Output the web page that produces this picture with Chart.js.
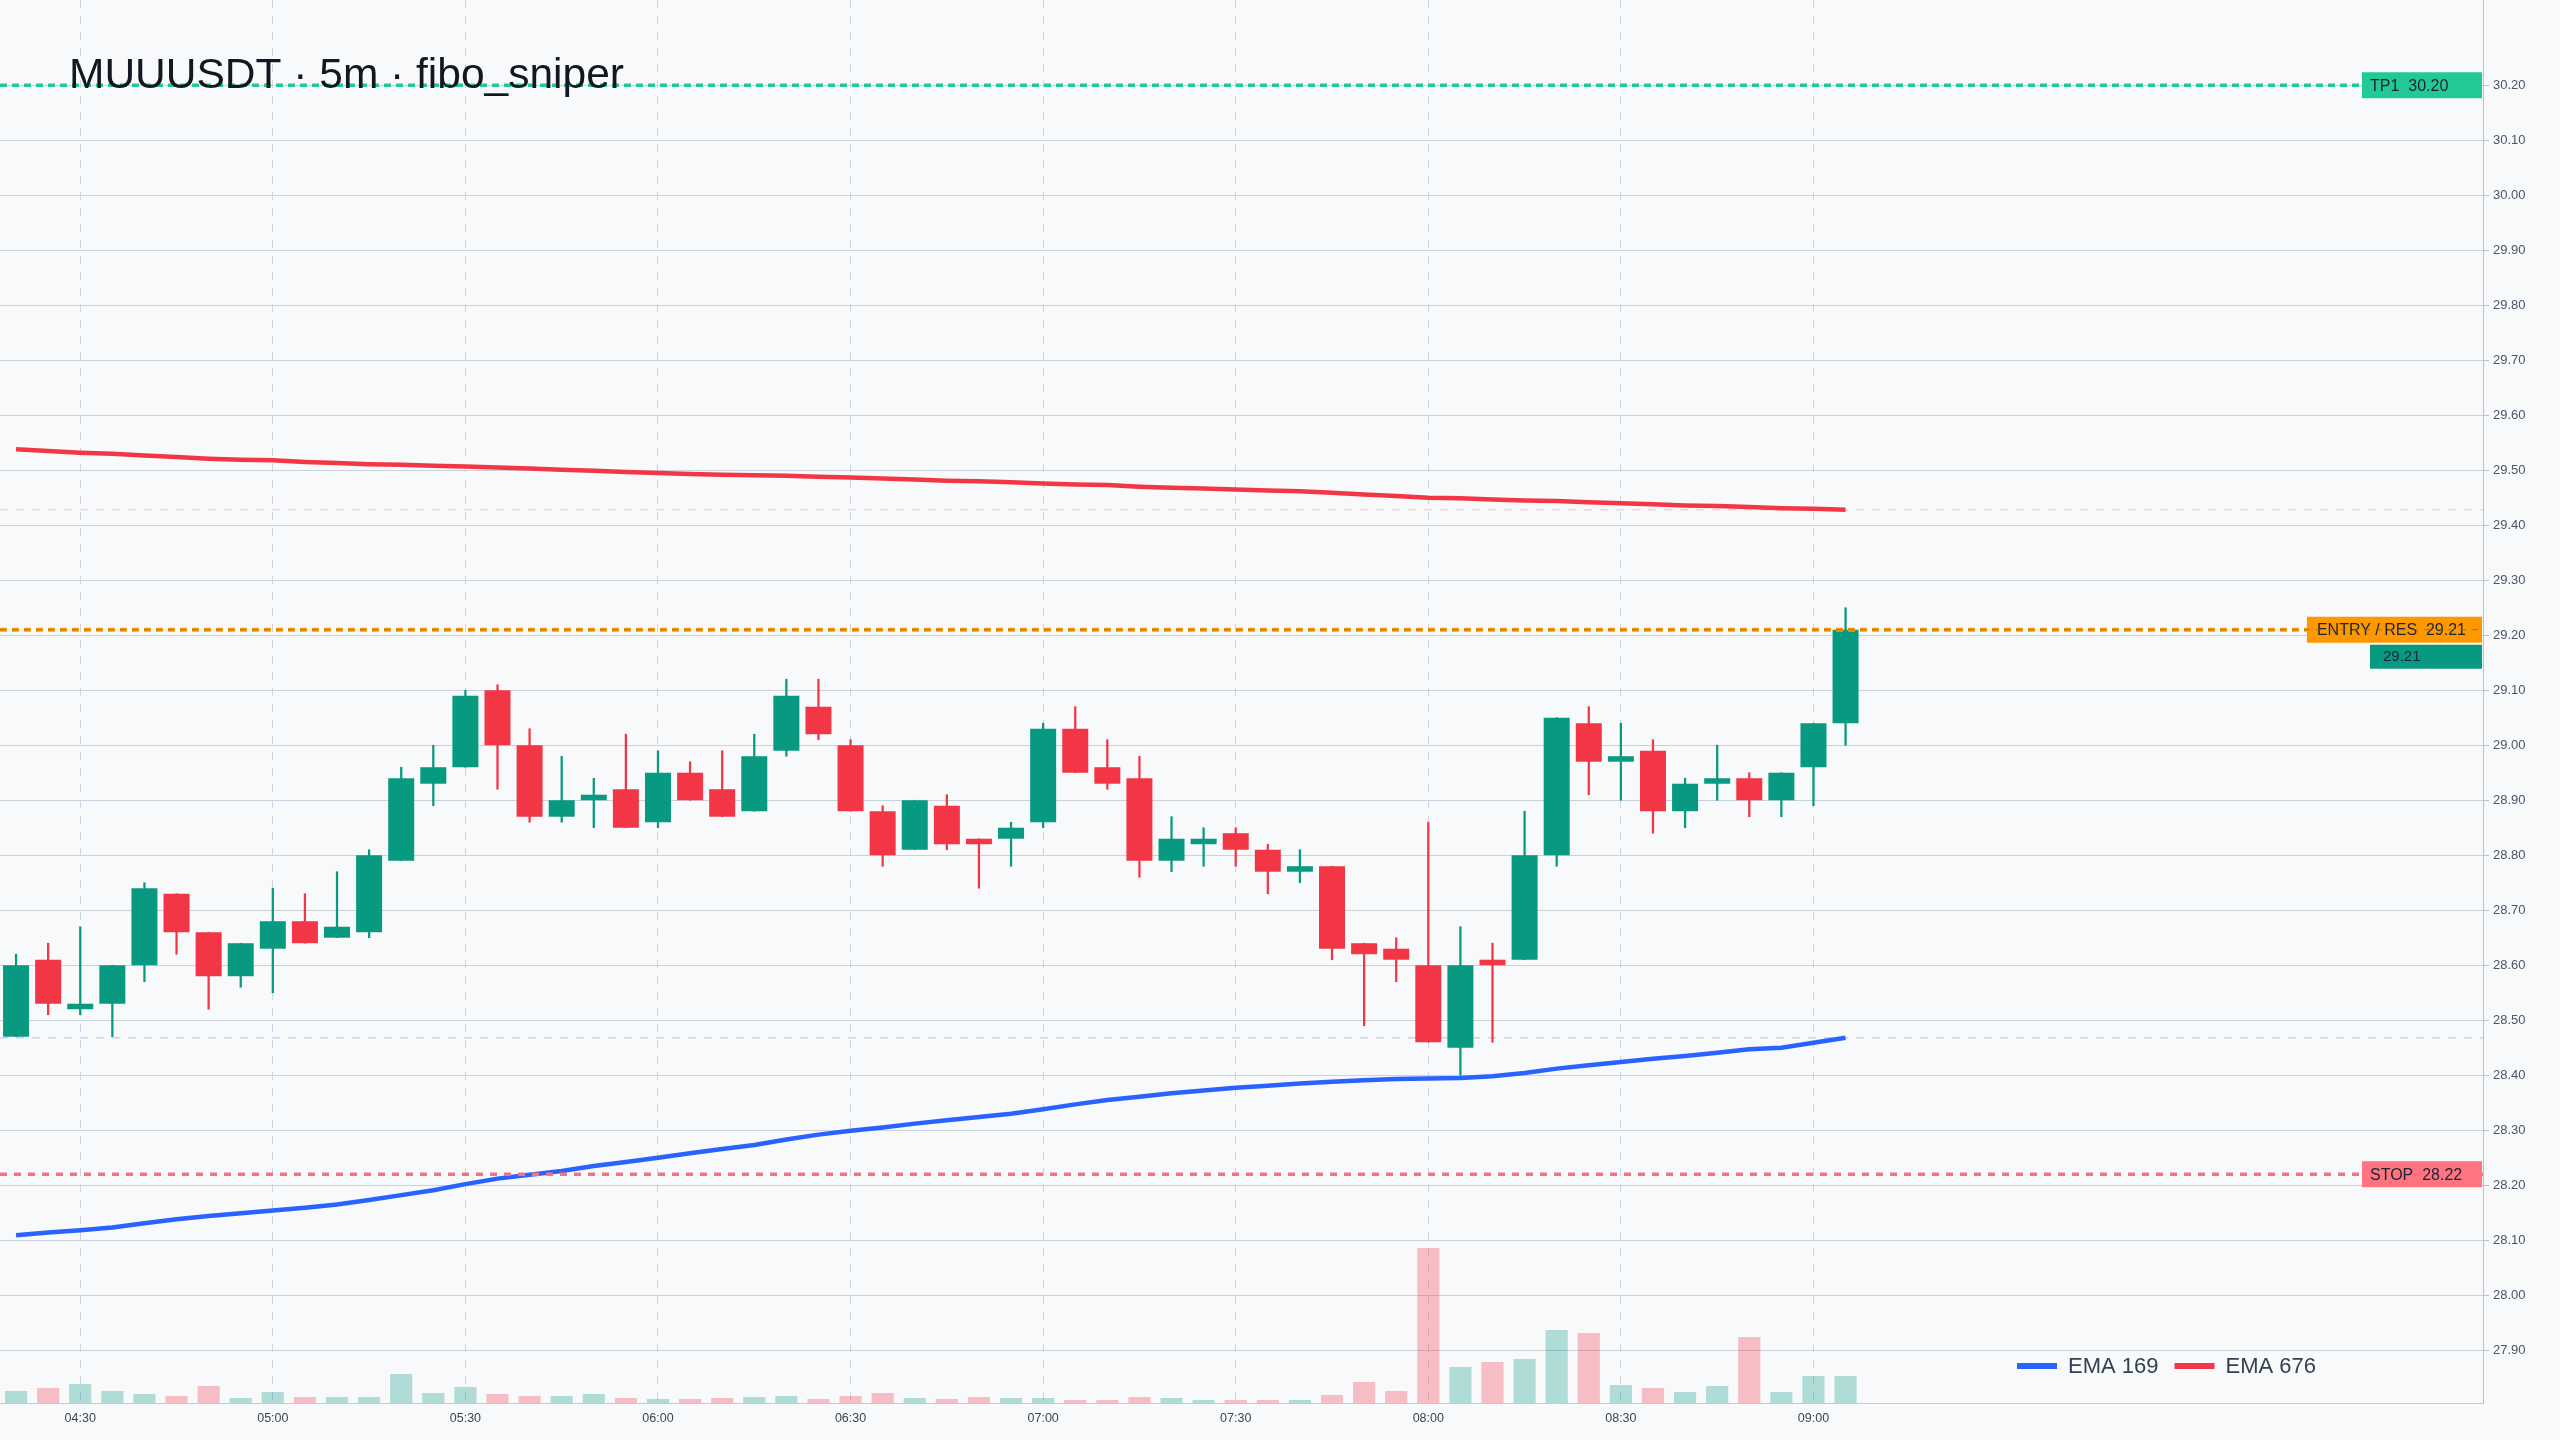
<!DOCTYPE html>
<html>
<head>
<meta charset="utf-8">
<title>MUUUSDT · 5m · fibo_sniper</title>
<script src="https://cdn.jsdelivr.net/npm/chart.js@4.4.1/dist/chart.umd.min.js"></script>
<style>
  html, body { margin: 0; padding: 0; background: #f8f9fb; }
  #wrap { position: relative; width: 2560px; height: 1440px; }
</style>
</head>
<body>
<div id="wrap"><canvas id="chart"></canvas></div>
<script>
const chartTitle = 'MUUUSDT · 5m · fibo_sniper';

const times = ['04:20','04:25','04:30','04:35','04:40','04:45','04:50','04:55',
  '05:00','05:05','05:10','05:15','05:20','05:25','05:30','05:35','05:40','05:45','05:50','05:55',
  '06:00','06:05','06:10','06:15','06:20','06:25','06:30','06:35','06:40','06:45','06:50','06:55',
  '07:00','07:05','07:10','07:15','07:20','07:25','07:30','07:35','07:40','07:45','07:50','07:55',
  '08:00','08:05','08:10','08:15','08:20','08:25','08:30','08:35','08:40','08:45','08:50','08:55',
  '09:00','09:05'];

const opens = [28.47,28.61,28.52,28.53,28.60,28.73,28.66,28.58,28.63,28.68,28.65,28.66,28.79,28.93,28.96,
  29.10,29.00,28.87,28.90,28.92,28.86,28.95,28.92,28.88,28.99,29.07,29.00,28.88,28.81,28.89,28.83,28.83,
  28.86,29.03,28.96,28.94,28.79,28.82,28.84,28.81,28.77,28.78,28.64,28.63,28.60,28.45,28.61,28.61,
  28.80,29.04,28.97,28.99,28.88,28.93,28.94,28.90,28.96,29.04];
const highs = [28.62,28.64,28.67,28.60,28.75,28.73,28.66,28.64,28.74,28.73,28.77,28.81,28.96,29.00,29.10,
  29.11,29.03,28.98,28.94,29.02,28.99,28.97,28.99,29.02,29.12,29.12,29.01,28.89,28.90,28.91,28.83,28.86,
  29.04,29.07,29.01,28.98,28.87,28.85,28.85,28.82,28.81,28.78,28.64,28.65,28.86,28.67,28.64,28.88,
  29.05,29.07,29.04,29.01,28.94,29.00,28.95,28.95,29.04,29.25];
const lows = [28.47,28.51,28.51,28.47,28.57,28.62,28.52,28.56,28.55,28.64,28.65,28.65,28.79,28.89,28.96,
  28.92,28.86,28.86,28.85,28.85,28.85,28.90,28.87,28.88,28.98,29.01,28.88,28.78,28.81,28.81,28.74,28.78,
  28.85,28.95,28.92,28.76,28.77,28.78,28.78,28.73,28.75,28.61,28.49,28.57,28.46,28.40,28.46,28.61,
  28.78,28.91,28.90,28.84,28.85,28.90,28.87,28.87,28.89,29.00];
const closes = [28.60,28.53,28.53,28.60,28.74,28.66,28.58,28.64,28.68,28.64,28.67,28.80,28.94,28.96,29.09,
  29.00,28.87,28.90,28.91,28.85,28.95,28.90,28.87,28.98,29.09,29.02,28.88,28.80,28.90,28.82,28.82,28.85,
  29.03,28.95,28.93,28.79,28.83,28.83,28.81,28.77,28.78,28.63,28.62,28.61,28.46,28.60,28.60,28.80,
  29.05,28.97,28.98,28.88,28.93,28.94,28.90,28.95,29.04,29.21];
const volumes = [1200,1500,1900,1200,900,700,1700,500,1100,600,600,600,2900,1000,1600,900,700,700,900,500,
  400,400,500,600,700,400,700,1000,500,400,600,500,500,300,300,600,500,300,300,300,
  300,800,2100,1200,15500,3600,4100,4400,7300,7000,1800,1500,1100,1700,6600,1100,2700,2700];

const ema169 = [28.109,28.114,28.118,28.123,28.131,28.138,28.144,28.149,28.154,28.159,28.165,28.173,28.182,
  28.191,28.202,28.212,28.219,28.226,28.235,28.242,28.250,28.258,28.266,28.273,28.283,28.292,28.299,28.305,
  28.312,28.318,28.324,28.330,28.338,28.347,28.355,28.361,28.367,28.372,28.377,28.381,28.385,28.388,28.391,
  28.393,28.394,28.395,28.398,28.404,28.412,28.418,28.424,28.430,28.435,28.441,28.447,28.450,28.459,28.468];
const ema676 = [29.538,29.535,29.532,29.530,29.527,29.524,29.521,29.519,29.518,29.515,29.513,29.511,29.510,
  29.508,29.507,29.505,29.503,29.501,29.499,29.497,29.495,29.493,29.492,29.491,29.490,29.488,29.487,29.485,
  29.483,29.481,29.480,29.478,29.476,29.474,29.473,29.470,29.468,29.467,29.465,29.463,29.462,29.459,29.456,
  29.453,29.450,29.449,29.447,29.445,29.444,29.442,29.440,29.438,29.436,29.435,29.433,29.431,29.430,29.428];

const levelNames = ['TP1', 'ENTRY / RES', 'STOP'];
const levelValues = [30.20, 29.21, 28.22];
const lastPrice = 29.21;

const priceTicks = [27.90,28.00,28.10,28.20,28.30,28.40,28.50,28.60,28.70,28.80,28.90,29.00,
  29.10,29.20,29.30,29.40,29.50,29.60,29.70,29.80,29.90,30.00,30.10,30.20];
const timeTicks = ['04:30','05:00','05:30','06:00','06:30','07:00','07:30','08:00','08:30','09:00'];

// styles
const fontFamily = 'Arial, "Liberation Sans", Helvetica, sans-serif';
const upColor = '#089981', downColor = '#F23645';
const upVol = 'rgba(8,153,129,0.3)', downVol = 'rgba(242,54,69,0.3)';
const levelStyles = [
  { color: '#22C997', tag: '#22C997', width: 3.5, dash: [7, 5] },
  { color: '#FF9800', tag: '#FF9800', width: 4, dash: [7, 5] },
  { color: '#F6727E', tag: '#FF7480', width: 3.5, dash: [7, 7] }
];

const toMin = t => { const [h, m] = t.split(':').map(Number); return h * 60 + m; };
const xs = times.map(toMin);
const xMin = xs[0] - 2.5;
const xMax = xs[xs.length - 1] + 99.3;
const isUp = i => closes[i] >= opens[i];

Chart.defaults.font.family = fontFamily;

const hLine = v => [{ x: xMin, y: v }, { x: xMax, y: v }];

const datasets = [
  { label: 'Volume', type: 'bar', yAxisID: 'yv', order: 10, grouped: false,
    data: xs.map((x, i) => ({ x, y: volumes[i] })),
    backgroundColor: c => isUp(c.dataIndex) ? upVol : downVol,
    barPercentage: 0.69, categoryPercentage: 1 },
  { label: 'EMA 169 last', type: 'line', order: 9, data: hLine(ema169[ema169.length - 1]),
    borderColor: 'rgba(41,98,255,0.25)', borderWidth: 1.5, borderDash: [8, 8], pointRadius: 0 },
  { label: 'EMA 676 last', type: 'line', order: 9, data: hLine(ema676[ema676.length - 1]),
    borderColor: 'rgba(242,54,69,0.2)', borderWidth: 1.5, borderDash: [8, 8], pointRadius: 0 },
  { label: 'Wicks', type: 'bar', order: 8, grouped: false,
    data: xs.map((x, i) => ({ x, y: [lows[i], highs[i]] })),
    backgroundColor: c => isUp(c.dataIndex) ? upColor : downColor,
    barThickness: 1.6 },
  { label: 'Bodies', type: 'bar', order: 7, grouped: false,
    data: xs.map((x, i) => ({ x, y: [opens[i], closes[i]] })),
    backgroundColor: c => isUp(c.dataIndex) ? upColor : downColor,
    barPercentage: 0.81, categoryPercentage: 1 },
  { label: 'EMA 169', type: 'line', order: 6, data: xs.map((x, i) => ({ x, y: ema169[i] })),
    borderColor: '#2962FF', borderWidth: 4.5, pointRadius: 0, tension: 0 },
  { label: 'EMA 676', type: 'line', order: 6, data: xs.map((x, i) => ({ x, y: ema676[i] })),
    borderColor: '#F23645', borderWidth: 4.5, pointRadius: 0, tension: 0 }
];
levelNames.forEach((name, i) => {
  datasets.push({ label: name, type: 'line', order: 4, data: hLine(levelValues[i]),
    borderColor: levelStyles[i].color, borderWidth: levelStyles[i].width,
    borderDash: levelStyles[i].dash, pointRadius: 0 });
});
datasets.push({ label: 'Last price', type: 'line', order: 1, data: hLine(lastPrice),
  borderColor: 'rgba(8,153,129,0.75)', borderWidth: 1, borderDash: [6, 6], pointRadius: 0 });

// price tags at the right edge, drawn just before the last-price line
const levelTags = {
  id: 'levelTags',
  beforeDatasetDraw(chart, args) {
    if (chart.data.datasets[args.index].label !== 'Last price') return;
    const { ctx, chartArea, scales: { y } } = chart;
    ctx.save();
    ctx.font = '16px ' + fontFamily;
    ctx.textBaseline = 'middle';
    let entryBottom = null;
    levelNames.forEach((name, i) => {
      const text = name + '  ' + levelValues[i].toFixed(2);
      const tw = ctx.measureText(text).width;
      const w = Math.max(120, tw + 26);
      const h = 26;
      const py = y.getPixelForValue(levelValues[i]);
      const x0 = chartArea.right - 1 - w;
      ctx.fillStyle = levelStyles[i].tag;
      ctx.fillRect(x0, py - h / 2, w, h);
      ctx.fillStyle = '#1b2433';
      ctx.fillText(text, x0 + (w > 120 ? 10 : 8), py + 1);
      if (levelValues[i] === lastPrice) entryBottom = py + h / 2;
    });
    const py = y.getPixelForValue(lastPrice);
    const top = entryBottom !== null ? entryBottom + 2 : py - 12;
    const w = 112, x0 = chartArea.right - 1 - w;
    ctx.font = '15px ' + fontFamily;
    ctx.fillStyle = upColor;
    ctx.fillRect(x0, top, w, 24);
    ctx.fillStyle = '#1b2433';
    ctx.fillText(lastPrice.toFixed(2), x0 + 13, top + 12.5);
    ctx.restore();
  }
};

const titleAndLegend = {
  id: 'titleAndLegend',
  afterDraw(chart) {
    const { ctx, chartArea } = chart;
    ctx.save();
    ctx.font = '42.5px ' + fontFamily;
    ctx.fillStyle = '#131722';
    ctx.textBaseline = 'alphabetic';
    ctx.fillText(chartTitle, chartArea.left + 69, chartArea.top + 88);

    ctx.font = '22px ' + fontFamily;
    ctx.textBaseline = 'middle';
    const items = chart.data.datasets.filter(d => d.label === 'EMA 169' || d.label === 'EMA 676');
    const widths = items.map(d => 51 + ctx.measureText(d.label).width);
    const total = widths.reduce((a, b) => a + b, 0) + 16 * (items.length - 1);
    let x = chartArea.right - 167 - total;
    const yc = chartArea.bottom - 37;
    items.forEach((d, i) => {
      ctx.fillStyle = d.borderColor;
      ctx.fillRect(x, yc - 3, 40, 6);
      ctx.fillStyle = '#334155';
      ctx.fillText(d.label, x + 51, yc + 1);
      x += widths[i] + 16;
    });
    ctx.restore();
  }
};

const timeLabel = v => {
  const h = Math.floor(v / 60), m = Math.round(v % 60);
  return String(h).padStart(2, '0') + ':' + String(m).padStart(2, '0');
};

new Chart(document.getElementById('chart'), {
  type: 'bar',
  data: { datasets },
  options: {
    responsive: true,
    maintainAspectRatio: false,
    animation: false,
    events: [],
    layout: { padding: 0 },
    plugins: { legend: { display: false }, tooltip: { enabled: false } },
    scales: {
      x: {
        type: 'linear', min: xMin, max: xMax, offset: false,
        grid: { color: '#cdd4df', lineWidth: 1, drawTicks: false, offset: false },
        border: { display: true, color: '#c3cad5', dash: [8, 8] },
        ticks: { padding: 8, color: '#3b4554', font: { size: 12.5 }, maxRotation: 0, autoSkip: false,
          callback: v => timeLabel(v) },
        afterBuildTicks: s => { s.ticks = timeTicks.map(t => ({ value: toMin(t) })); },
        afterFit: s => { s.height = 37; s.paddingLeft = 0; s.paddingRight = 0; }
      },
      y: {
        type: 'linear', position: 'right', min: 27.804, max: 30.355,
        grid: { color: '#c9d1dd', lineWidth: 1, tickLength: 6, tickColor: '#b8c1cd' },
        border: { display: true, color: '#b8c2cf' },
        ticks: { padding: 4, color: '#4a5568', font: { size: 13 }, callback: v => Number(v).toFixed(2) },
        afterBuildTicks: s => { s.ticks = priceTicks.map(v => ({ value: v })); },
        afterFit: s => { s.width = 77; s.paddingTop = 0; s.paddingBottom = 0; }
      },
      yv: { display: false, min: 0, max: Math.max(...volumes) * 9.05 }
    }
  },
  plugins: [levelTags, titleAndLegend]
});
</script>
</body>
</html>
